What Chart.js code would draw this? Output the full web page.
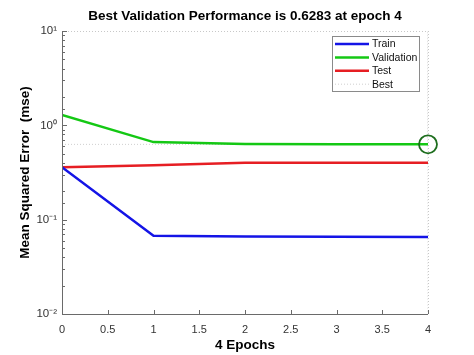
<!DOCTYPE html>
<html>
<head>
<meta charset="utf-8">
<script src="https://cdn.jsdelivr.net/npm/chart.js@4.4.1/dist/chart.umd.min.js"></script>
<style>
html,body{margin:0;padding:0;background:#fff;}
#wrap{position:relative;width:474px;height:355px;}
</style>
</head>
<body>
<div id="wrap"><canvas id="c" width="474" height="355"></canvas></div>
<script>
// ---- data ----
const epochs = [0, 1, 2, 3, 4];
const trainPerf = [0.36, 0.0676, 0.0665, 0.066, 0.0657];
const validationPerf = [1.29, 0.664, 0.634, 0.631, 0.6283];
const testPerf = [0.36, 0.378, 0.40, 0.40, 0.40];
const bestEpoch = 4;
const bestPerf = 0.6283;
const xTickValues = [0, 0.5, 1, 1.5, 2, 2.5, 3, 3.5, 4];
const yRange = [0.01, 10];
const seriesNames = ['Train', 'Validation', 'Test', 'Best'];
const titleText = 'Best Validation Performance is ' + bestPerf + ' at epoch ' + bestEpoch;

const sup = {'-':'\u207B','0':'\u2070','1':'\u00B9','2':'\u00B2','3':'\u00B3'};
function pow10Label(v){
  const e = Math.round(Math.log10(v));
  if (Math.abs(Math.log10(v) - e) > 1e-9) return '';
  return '10' + String(e).split('').map(c => sup[c]).join('');
}
const pts = arr => epochs.map((e, i) => ({x: e, y: arr[i]}));

const FONT = '"Liberation Sans", Arial, Helvetica, sans-serif';

const axesPlugin = {
  id: 'matlabAxes',
  afterDraw(chart) {
    const ctx = chart.ctx, a = chart.chartArea;
    const xs = chart.scales.x, ys = chart.scales.y;
    ctx.save();
    // dotted top & right
    ctx.strokeStyle = '#c8c8c8';
    ctx.lineWidth = 1;
    ctx.setLineDash([1, 2]);
    ctx.beginPath();
    ctx.moveTo(a.left, a.top + 0.5); ctx.lineTo(a.right, a.top + 0.5);
    ctx.moveTo(a.right + 0.5, a.top); ctx.lineTo(a.right + 0.5, a.bottom);
    ctx.stroke();
    ctx.setLineDash([]);
    // solid left & bottom
    ctx.strokeStyle = '#6a6a6a';
    ctx.beginPath();
    ctx.moveTo(a.left + 0.5, a.top); ctx.lineTo(a.left + 0.5, a.bottom + 0.5);
    ctx.lineTo(a.right, a.bottom + 0.5);
    // x ticks inward
    xs.ticks.forEach(t => {
      const px = Math.round(xs.getPixelForValue(t.value)) + 0.5;
      ctx.moveTo(px, a.bottom); ctx.lineTo(px, a.bottom - 4);
    });
    // y ticks inward (major + minor)
    ys.ticks.forEach(t => {
      const v = t.value;
      const isMajor = Math.abs(Math.log10(v) - Math.round(Math.log10(v))) < 1e-9;
      const py = Math.round(ys.getPixelForValue(v)) + 0.5;
      ctx.moveTo(a.left, py); ctx.lineTo(a.left + (isMajor ? 5 : 3), py);
    });
    ctx.stroke();

    // legend
    const lx = 332.5, ly = 36.5, lw = 87, lh = 55;
    ctx.fillStyle = '#fff';
    ctx.fillRect(lx, ly, lw, lh);
    ctx.strokeStyle = '#8a8a8a';
    ctx.strokeRect(lx, ly, lw, lh);
    ctx.font = '10.5px ' + FONT;
    ctx.textBaseline = 'middle';
    ctx.textAlign = 'left';
    const rows = [0, 1, 2, 3];
    rows.forEach((di, i) => {
      const ds = chart.data.datasets[di];
      const y = 44 + i * 13.4;
      ctx.strokeStyle = ds.borderColor;
      ctx.lineWidth = ds.borderWidth;
      ctx.setLineDash(ds.borderDash || []);
      ctx.beginPath();
      ctx.moveTo(335, y); ctx.lineTo(369, y);
      ctx.stroke();
      ctx.setLineDash([]);
      ctx.fillStyle = '#111';
      ctx.fillText(ds.label, 372, y + 0.5);
    });
    ctx.restore();
  }
};

new Chart(document.getElementById('c'), {
  type: 'line',
  data: {
    datasets: [
      {label: seriesNames[0], data: pts(trainPerf), borderColor: '#1414e6', borderWidth: 2.5, pointRadius: 0, tension: 0, order: 2},
      {label: seriesNames[1], data: pts(validationPerf), borderColor: '#14c814', borderWidth: 2.5, pointRadius: 0, tension: 0, order: 1},
      {label: seriesNames[2], data: pts(testPerf), borderColor: '#e61e23', borderWidth: 2.5, pointRadius: 0, tension: 0, order: 3},
      {label: seriesNames[3], data: [{x: epochs[0], y: bestPerf}, {x: bestEpoch, y: bestPerf}, {x: bestEpoch, y: yRange[1]}, {x: bestEpoch, y: yRange[0]}],
       borderColor: '#cfcfcf', borderWidth: 1, borderDash: [1, 2], pointRadius: 0, tension: 0, order: 4},
      {label: 'bestMark', data: [{x: bestEpoch, y: bestPerf}], showLine: false, pointRadius: 9, pointBorderWidth: 1.8, clip: false,
       pointBorderColor: '#1e6e1e', pointBackgroundColor: 'rgba(0,0,0,0)', borderColor: '#1e6e1e', order: 0}
    ]
  },
  options: {
    responsive: false,
    animation: false,
    layout: {padding: {left: 0, right: 46, top: 0, bottom: 0}},
    plugins: {
      legend: {display: false},
      tooltip: {enabled: false},
      title: {
        display: true, text: titleText, fullSize: false, color: '#000',
        font: {family: FONT, size: 13.5, weight: 'bold', lineHeight: 1.2},
        padding: {top: 8, bottom: 6.8}
      }
    },
    scales: {
      x: {
        type: 'linear', min: 0, max: 4,
        afterBuildTicks: s => { s.ticks = xTickValues.map(v => ({value: v})); },
        grid: {display: false, drawTicks: false},
        border: {display: false},
        ticks: {color: '#333', font: {family: FONT, size: 11}, padding: 9, maxRotation: 0, autoSkip: false, callback: v => String(Number(v))},
        title: {display: true, text: '4 Epochs', color: '#000', font: {family: FONT, size: 13.5, weight: 'bold', lineHeight: 1.2}, padding: {top: 0, bottom: 2}},
        afterFit: s => { s.height = 41; }
      },
      y: {
        type: 'logarithmic', min: yRange[0], max: yRange[1],
        grid: {display: false, drawTicks: false},
        border: {display: false},
        ticks: {color: '#333', font: {family: FONT, size: 11.5}, padding: 5, autoSkip: false, callback: v => pow10Label(v)},
        title: {display: true, text: 'Mean Squared Error  (mse)', color: '#000', font: {family: FONT, size: 13.5, weight: 'bold', lineHeight: 1.2}, padding: {top: 17, bottom: 0}},
        afterFit: s => { s.width = 62; }
      }
    }
  },
  plugins: [axesPlugin]
});
</script>
</body>
</html>
